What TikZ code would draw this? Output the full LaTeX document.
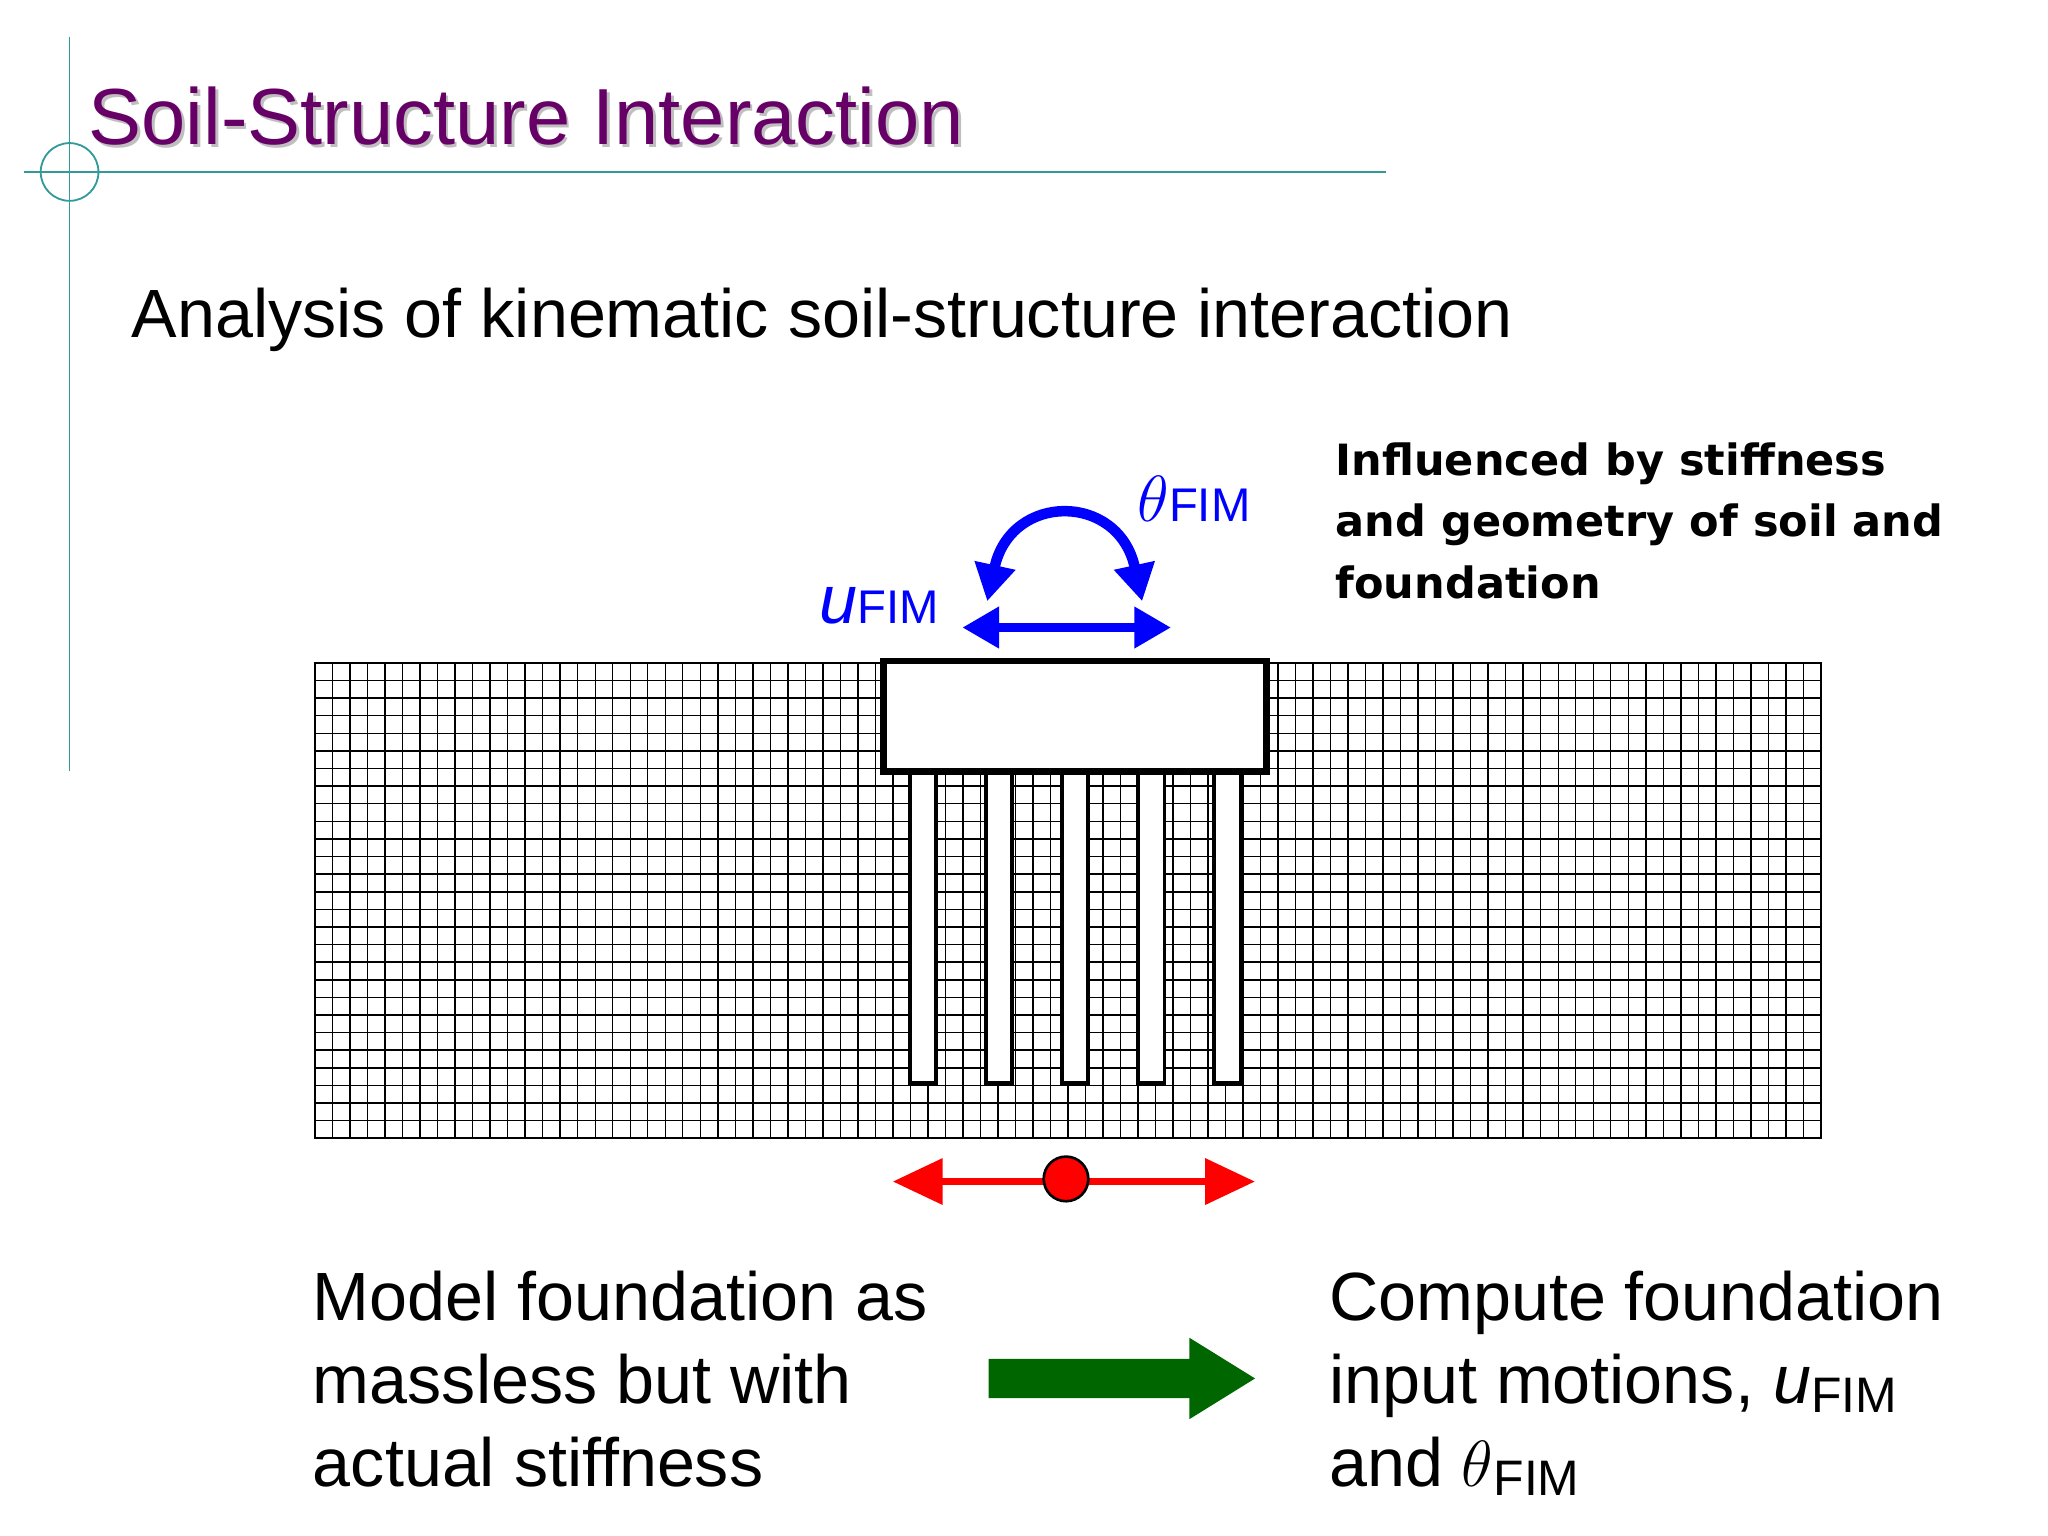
\documentclass[tikz,border=0pt]{standalone}
\usepackage{fontspec}
\setmainfont{Liberation Sans}
\newfontfamily\boldf{DejaVu Sans}
\usetikzlibrary{arrows.meta}
\definecolor{teal1}{HTML}{339999}
\definecolor{purp}{HTML}{660066}
\definecolor{dgreen}{HTML}{006600}
\begin{document}
\begin{tikzpicture}[x=0.5pt,y=-0.5pt,
  pile/.style={draw,line width=1.5pt,fill=white},
  bigtxt/.style={anchor=base west,font=\fontsize{26}{31.5}\selectfont,align=left,inner sep=0}]
\useasboundingbox (0,0) rectangle (1560,1170);
% decorations
\draw[teal1,line width=0.7pt] (53,28) -- (53,587);
\draw[teal1,line width=0.7pt] (18,131) -- (1056,131);
\draw[teal1,line width=0.7pt] (53,131) circle (22);
\node[anchor=base west,inner sep=0,text=gray!50,font=\fontsize{30.3}{30}\selectfont] at (69,112) {Soil-Structure Interaction};
\node (title) [anchor=base west,inner sep=0,text=purp,font=\fontsize{30.3}{30}\selectfont] at (67,110) {Soil-Structure Interaction};
\node (sub) [anchor=base west,inner sep=0,font=\fontsize{26}{26}\selectfont] at (100,257) {Analysis of kinematic soil-structure interaction};
% grid
\foreach \i in {0,...,86}{\draw[line width=0.55pt] (240+\i*13.337,505) -- (240+\i*13.337,867);}
\foreach \j in {0,...,27}{\draw[line width=0.55pt] (240,505+\j*13.407) -- (1387,505+\j*13.407);}
\draw[line width=0.7pt] (240,505) rectangle (1387,867);
% piles
\foreach \c in {703,761,819,877,935}{\draw[pile] (\c-10,585) rectangle (\c+10,825);}
\node (fnd) [draw,line width=2.6pt,fill=white,minimum width=146pt,minimum height=42pt,inner sep=0] at (819,545.5) {};
% blue arrows
\coordinate (bl) at (733,478); \coordinate (br) at (892,478);
\draw[blue,line width=3.5pt,{Triangle[length=14,width=15]}-{Triangle[length=14,width=15]}] (bl) -- (br);
\coordinate (al) at (752,458); \coordinate (ar) at (870,458);
\draw[blue,line width=4pt,{Triangle[length=14,width=15]}-{Triangle[length=14,width=15]}] (al) .. controls (770,375) and (852,375) .. (ar);
\node (u) [anchor=base west,inner sep=0,text=blue,font=\fontsize{26}{26}\selectfont] at (624,475) {\textit{u}\fontsize{18}{18}\selectfont FIM};
\node (th) [anchor=base west,inner sep=0,text=blue,font=\fontsize{26}{26}\selectfont] at (866,397) {$\theta$\fontsize{18}{18}\selectfont FIM};
\node (inf) [anchor=base west,inner sep=0,align=left,font=\boldf\bfseries\fontsize{16.4}{23.5}\selectfont] at (1017,456) {Influenced by stiffness\\and geometry of soil and\\foundation};
% red arrow
\coordinate (rl) at (680,900); \coordinate (rr) at (956,900);
\draw[red,line width=3pt,{Triangle[length=19,width=17]}-{Triangle[length=19,width=17]}] (rl) -- (rr);
\node (dot) [circle,draw,line width=1pt,fill=red,minimum size=17pt,inner sep=0] at (812,898) {};
% bottom
\node (m) [bigtxt] at (238,1132) {Model foundation as\\massless but with\\actual stiffness};
\fill[dgreen] (753,1035) -- (906,1035) -- (906,1019) -- (956,1050) -- (906,1081) -- (906,1065) -- (753,1065) -- cycle;
\node (c) [bigtxt] at (1012,1132) {Compute foundation\\input motions, \textit{u}\raisebox{-0.25ex}{\fontsize{19}{19}\selectfont FIM}\\and $\theta$\raisebox{-0.25ex}{\fontsize{19}{19}\selectfont FIM}};
\end{tikzpicture}
\end{document}
